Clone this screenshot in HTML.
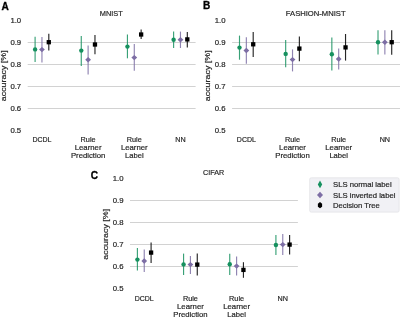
<!DOCTYPE html>
<html><head><meta charset="utf-8"><style>
html,body{margin:0;padding:0;background:#fff;width:400px;height:317px;overflow:hidden}
svg{display:block;font-family:"Liberation Sans", sans-serif;filter:blur(0.35px)}
</style></head><body>
<svg width="400" height="317" viewBox="0 0 400 317">
<line x1="27.70" y1="42.50" x2="195.60" y2="42.50" stroke="#d2d2d2" stroke-width="1.0"/>
<line x1="27.70" y1="64.50" x2="195.60" y2="64.50" stroke="#d2d2d2" stroke-width="1.0"/>
<line x1="27.70" y1="86.50" x2="195.60" y2="86.50" stroke="#d2d2d2" stroke-width="1.0"/>
<line x1="27.70" y1="108.50" x2="195.60" y2="108.50" stroke="#d2d2d2" stroke-width="1.0"/>
<text x="21.20" y="23.20" font-size="7.9" text-anchor="end" font-weight="normal" fill="#262626" stroke="#262626" stroke-width="0.2" textLength="10.8" lengthAdjust="spacingAndGlyphs" >1.0</text>
<text x="21.20" y="45.20" font-size="7.9" text-anchor="end" font-weight="normal" fill="#262626" stroke="#262626" stroke-width="0.2" textLength="10.8" lengthAdjust="spacingAndGlyphs" >0.9</text>
<text x="21.20" y="67.20" font-size="7.9" text-anchor="end" font-weight="normal" fill="#262626" stroke="#262626" stroke-width="0.2" textLength="10.8" lengthAdjust="spacingAndGlyphs" >0.8</text>
<text x="21.20" y="89.20" font-size="7.9" text-anchor="end" font-weight="normal" fill="#262626" stroke="#262626" stroke-width="0.2" textLength="10.8" lengthAdjust="spacingAndGlyphs" >0.7</text>
<text x="21.20" y="111.20" font-size="7.9" text-anchor="end" font-weight="normal" fill="#262626" stroke="#262626" stroke-width="0.2" textLength="10.8" lengthAdjust="spacingAndGlyphs" >0.6</text>
<text x="21.20" y="133.20" font-size="7.9" text-anchor="end" font-weight="normal" fill="#262626" stroke="#262626" stroke-width="0.2" textLength="10.8" lengthAdjust="spacingAndGlyphs" >0.5</text>
<text x="111.30" y="15.80" font-size="8.1" text-anchor="middle" font-weight="normal" fill="#262626" stroke="#262626" stroke-width="0.2" textLength="23.0" lengthAdjust="spacingAndGlyphs" >MNIST</text>
<text x="0" y="0" font-size="10.1" font-weight="bold" fill="#000" stroke="#000" stroke-width="0.3" transform="translate(1.6 9.5) scale(1.0 1)">A</text>
<text x="0" y="0" font-size="8.0" text-anchor="middle" fill="#262626" stroke="#262626" stroke-width="0.2" textLength="50.8" lengthAdjust="spacingAndGlyphs" transform="translate(5.60 75.80) rotate(-90)">accuracy [%]</text>
<text x="41.95" y="142.40" font-size="7.8" text-anchor="middle" font-weight="normal" fill="#262626" stroke="#262626" stroke-width="0.2" textLength="19.0" lengthAdjust="spacingAndGlyphs" >DCDL</text>
<text x="88.12" y="142.40" font-size="7.8" text-anchor="middle" font-weight="normal" fill="#262626" stroke="#262626" stroke-width="0.2" textLength="15.0" lengthAdjust="spacingAndGlyphs" >Rule</text>
<text x="88.12" y="150.35" font-size="7.8" text-anchor="middle" font-weight="normal" fill="#262626" stroke="#262626" stroke-width="0.2" textLength="26.8" lengthAdjust="spacingAndGlyphs" >Learner</text>
<text x="88.12" y="158.30" font-size="7.8" text-anchor="middle" font-weight="normal" fill="#262626" stroke="#262626" stroke-width="0.2" textLength="34.4" lengthAdjust="spacingAndGlyphs" >Prediction</text>
<text x="134.29" y="142.40" font-size="7.8" text-anchor="middle" font-weight="normal" fill="#262626" stroke="#262626" stroke-width="0.2" textLength="15.0" lengthAdjust="spacingAndGlyphs" >Rule</text>
<text x="134.29" y="150.35" font-size="7.8" text-anchor="middle" font-weight="normal" fill="#262626" stroke="#262626" stroke-width="0.2" textLength="26.8" lengthAdjust="spacingAndGlyphs" >Learner</text>
<text x="134.29" y="158.30" font-size="7.8" text-anchor="middle" font-weight="normal" fill="#262626" stroke="#262626" stroke-width="0.2" textLength="18.6" lengthAdjust="spacingAndGlyphs" >Label</text>
<text x="180.46" y="142.40" font-size="7.8" text-anchor="middle" font-weight="normal" fill="#262626" stroke="#262626" stroke-width="0.2" textLength="10.4" lengthAdjust="spacingAndGlyphs" >NN</text>
<line x1="35.10" y1="36.70" x2="35.10" y2="62.00" stroke="#16915f" stroke-width="1.15" stroke-opacity="0.85"/>
<line x1="41.95" y1="37.10" x2="41.95" y2="62.60" stroke="#7d6ea5" stroke-width="1.15" stroke-opacity="0.85"/>
<line x1="48.80" y1="33.80" x2="48.80" y2="50.60" stroke="#000000" stroke-width="1.15" stroke-opacity="0.85"/>
<circle cx="35.10" cy="49.40" r="2.2" fill="#16915f"/>
<path d="M41.95 46.90L44.85 49.60L41.95 52.30L39.05 49.60Z" fill="#7d6ea5"/>
<rect x="46.65" y="40.05" width="4.3" height="4.3" fill="#000000"/>
<line x1="81.27" y1="35.90" x2="81.27" y2="66.00" stroke="#16915f" stroke-width="1.15" stroke-opacity="0.85"/>
<line x1="88.12" y1="45.40" x2="88.12" y2="74.60" stroke="#7d6ea5" stroke-width="1.15" stroke-opacity="0.85"/>
<line x1="94.97" y1="35.00" x2="94.97" y2="54.20" stroke="#000000" stroke-width="1.15" stroke-opacity="0.85"/>
<circle cx="81.27" cy="50.60" r="2.2" fill="#16915f"/>
<path d="M88.12 57.10L91.02 59.80L88.12 62.50L85.22 59.80Z" fill="#7d6ea5"/>
<rect x="92.82" y="42.35" width="4.3" height="4.3" fill="#000000"/>
<line x1="127.44" y1="34.50" x2="127.44" y2="58.30" stroke="#16915f" stroke-width="1.15" stroke-opacity="0.85"/>
<line x1="134.29" y1="44.00" x2="134.29" y2="70.70" stroke="#7d6ea5" stroke-width="1.15" stroke-opacity="0.85"/>
<line x1="141.14" y1="29.50" x2="141.14" y2="39.00" stroke="#000000" stroke-width="1.15" stroke-opacity="0.85"/>
<circle cx="127.44" cy="46.60" r="2.2" fill="#16915f"/>
<path d="M134.29 54.90L137.19 57.60L134.29 60.30L131.39 57.60Z" fill="#7d6ea5"/>
<rect x="138.99" y="32.35" width="4.3" height="4.3" fill="#000000"/>
<line x1="173.61" y1="31.60" x2="173.61" y2="48.00" stroke="#16915f" stroke-width="1.15" stroke-opacity="0.85"/>
<line x1="180.46" y1="31.60" x2="180.46" y2="48.00" stroke="#7d6ea5" stroke-width="1.15" stroke-opacity="0.85"/>
<line x1="187.31" y1="31.90" x2="187.31" y2="47.40" stroke="#000000" stroke-width="1.15" stroke-opacity="0.85"/>
<circle cx="173.61" cy="39.70" r="2.2" fill="#16915f"/>
<path d="M180.46 37.00L183.36 39.70L180.46 42.40L177.56 39.70Z" fill="#7d6ea5"/>
<rect x="185.16" y="37.25" width="4.3" height="4.3" fill="#000000"/>
<line x1="232.10" y1="42.50" x2="400.00" y2="42.50" stroke="#d2d2d2" stroke-width="1.0"/>
<line x1="232.10" y1="64.50" x2="400.00" y2="64.50" stroke="#d2d2d2" stroke-width="1.0"/>
<line x1="232.10" y1="86.50" x2="400.00" y2="86.50" stroke="#d2d2d2" stroke-width="1.0"/>
<line x1="232.10" y1="108.50" x2="400.00" y2="108.50" stroke="#d2d2d2" stroke-width="1.0"/>
<text x="225.60" y="23.20" font-size="7.9" text-anchor="end" font-weight="normal" fill="#262626" stroke="#262626" stroke-width="0.2" textLength="10.8" lengthAdjust="spacingAndGlyphs" >1.0</text>
<text x="225.60" y="45.20" font-size="7.9" text-anchor="end" font-weight="normal" fill="#262626" stroke="#262626" stroke-width="0.2" textLength="10.8" lengthAdjust="spacingAndGlyphs" >0.9</text>
<text x="225.60" y="67.20" font-size="7.9" text-anchor="end" font-weight="normal" fill="#262626" stroke="#262626" stroke-width="0.2" textLength="10.8" lengthAdjust="spacingAndGlyphs" >0.8</text>
<text x="225.60" y="89.20" font-size="7.9" text-anchor="end" font-weight="normal" fill="#262626" stroke="#262626" stroke-width="0.2" textLength="10.8" lengthAdjust="spacingAndGlyphs" >0.7</text>
<text x="225.60" y="111.20" font-size="7.9" text-anchor="end" font-weight="normal" fill="#262626" stroke="#262626" stroke-width="0.2" textLength="10.8" lengthAdjust="spacingAndGlyphs" >0.6</text>
<text x="225.60" y="133.20" font-size="7.9" text-anchor="end" font-weight="normal" fill="#262626" stroke="#262626" stroke-width="0.2" textLength="10.8" lengthAdjust="spacingAndGlyphs" >0.5</text>
<text x="315.70" y="15.80" font-size="8.1" text-anchor="middle" font-weight="normal" fill="#262626" stroke="#262626" stroke-width="0.2" textLength="59.8" lengthAdjust="spacingAndGlyphs" >FASHION-MNIST</text>
<text x="0" y="0" font-size="10.1" font-weight="bold" fill="#000" stroke="#000" stroke-width="0.3" transform="translate(203.1 9.4) scale(1.0 1)">B</text>
<text x="0" y="0" font-size="8.0" text-anchor="middle" fill="#262626" stroke="#262626" stroke-width="0.2" textLength="50.8" lengthAdjust="spacingAndGlyphs" transform="translate(209.90 75.80) rotate(-90)">accuracy [%]</text>
<text x="246.35" y="142.40" font-size="7.8" text-anchor="middle" font-weight="normal" fill="#262626" stroke="#262626" stroke-width="0.2" textLength="19.0" lengthAdjust="spacingAndGlyphs" >DCDL</text>
<text x="292.52" y="142.40" font-size="7.8" text-anchor="middle" font-weight="normal" fill="#262626" stroke="#262626" stroke-width="0.2" textLength="15.0" lengthAdjust="spacingAndGlyphs" >Rule</text>
<text x="292.52" y="150.35" font-size="7.8" text-anchor="middle" font-weight="normal" fill="#262626" stroke="#262626" stroke-width="0.2" textLength="26.8" lengthAdjust="spacingAndGlyphs" >Learner</text>
<text x="292.52" y="158.30" font-size="7.8" text-anchor="middle" font-weight="normal" fill="#262626" stroke="#262626" stroke-width="0.2" textLength="34.4" lengthAdjust="spacingAndGlyphs" >Prediction</text>
<text x="338.69" y="142.40" font-size="7.8" text-anchor="middle" font-weight="normal" fill="#262626" stroke="#262626" stroke-width="0.2" textLength="15.0" lengthAdjust="spacingAndGlyphs" >Rule</text>
<text x="338.69" y="150.35" font-size="7.8" text-anchor="middle" font-weight="normal" fill="#262626" stroke="#262626" stroke-width="0.2" textLength="26.8" lengthAdjust="spacingAndGlyphs" >Learner</text>
<text x="338.69" y="158.30" font-size="7.8" text-anchor="middle" font-weight="normal" fill="#262626" stroke="#262626" stroke-width="0.2" textLength="18.6" lengthAdjust="spacingAndGlyphs" >Label</text>
<text x="384.86" y="142.40" font-size="7.8" text-anchor="middle" font-weight="normal" fill="#262626" stroke="#262626" stroke-width="0.2" textLength="10.4" lengthAdjust="spacingAndGlyphs" >NN</text>
<line x1="239.50" y1="35.60" x2="239.50" y2="59.70" stroke="#16915f" stroke-width="1.15" stroke-opacity="0.85"/>
<line x1="246.35" y1="37.20" x2="246.35" y2="63.70" stroke="#7d6ea5" stroke-width="1.15" stroke-opacity="0.85"/>
<line x1="253.20" y1="32.00" x2="253.20" y2="57.10" stroke="#000000" stroke-width="1.15" stroke-opacity="0.85"/>
<circle cx="239.50" cy="47.60" r="2.2" fill="#16915f"/>
<path d="M246.35 47.80L249.25 50.50L246.35 53.20L243.45 50.50Z" fill="#7d6ea5"/>
<rect x="251.05" y="42.15" width="4.3" height="4.3" fill="#000000"/>
<line x1="285.67" y1="40.00" x2="285.67" y2="67.20" stroke="#16915f" stroke-width="1.15" stroke-opacity="0.85"/>
<line x1="292.52" y1="49.40" x2="292.52" y2="71.40" stroke="#7d6ea5" stroke-width="1.15" stroke-opacity="0.85"/>
<line x1="299.37" y1="36.40" x2="299.37" y2="61.30" stroke="#000000" stroke-width="1.15" stroke-opacity="0.85"/>
<circle cx="285.67" cy="53.90" r="2.2" fill="#16915f"/>
<path d="M292.52 56.90L295.42 59.60L292.52 62.30L289.62 59.60Z" fill="#7d6ea5"/>
<rect x="297.22" y="46.45" width="4.3" height="4.3" fill="#000000"/>
<line x1="331.84" y1="37.40" x2="331.84" y2="70.60" stroke="#16915f" stroke-width="1.15" stroke-opacity="0.85"/>
<line x1="338.69" y1="48.60" x2="338.69" y2="69.40" stroke="#7d6ea5" stroke-width="1.15" stroke-opacity="0.85"/>
<line x1="345.54" y1="34.00" x2="345.54" y2="60.60" stroke="#000000" stroke-width="1.15" stroke-opacity="0.85"/>
<circle cx="331.84" cy="54.20" r="2.2" fill="#16915f"/>
<path d="M338.69 56.30L341.59 59.00L338.69 61.70L335.79 59.00Z" fill="#7d6ea5"/>
<rect x="343.39" y="45.25" width="4.3" height="4.3" fill="#000000"/>
<line x1="378.01" y1="30.30" x2="378.01" y2="54.50" stroke="#16915f" stroke-width="1.15" stroke-opacity="0.85"/>
<line x1="384.86" y1="30.30" x2="384.86" y2="54.60" stroke="#7d6ea5" stroke-width="1.15" stroke-opacity="0.85"/>
<line x1="391.71" y1="30.30" x2="391.71" y2="54.80" stroke="#000000" stroke-width="1.15" stroke-opacity="0.85"/>
<circle cx="378.01" cy="42.20" r="2.2" fill="#16915f"/>
<path d="M384.86 39.50L387.76 42.20L384.86 44.90L381.96 42.20Z" fill="#7d6ea5"/>
<rect x="389.56" y="40.05" width="4.3" height="4.3" fill="#000000"/>
<line x1="130.00" y1="200.50" x2="297.90" y2="200.50" stroke="#d2d2d2" stroke-width="1.0"/>
<line x1="130.00" y1="222.50" x2="297.90" y2="222.50" stroke="#d2d2d2" stroke-width="1.0"/>
<line x1="130.00" y1="244.50" x2="297.90" y2="244.50" stroke="#d2d2d2" stroke-width="1.0"/>
<line x1="130.00" y1="266.50" x2="297.90" y2="266.50" stroke="#d2d2d2" stroke-width="1.0"/>
<text x="123.50" y="181.20" font-size="7.9" text-anchor="end" font-weight="normal" fill="#262626" stroke="#262626" stroke-width="0.2" textLength="10.8" lengthAdjust="spacingAndGlyphs" >1.0</text>
<text x="123.50" y="203.20" font-size="7.9" text-anchor="end" font-weight="normal" fill="#262626" stroke="#262626" stroke-width="0.2" textLength="10.8" lengthAdjust="spacingAndGlyphs" >0.9</text>
<text x="123.50" y="225.20" font-size="7.9" text-anchor="end" font-weight="normal" fill="#262626" stroke="#262626" stroke-width="0.2" textLength="10.8" lengthAdjust="spacingAndGlyphs" >0.8</text>
<text x="123.50" y="247.20" font-size="7.9" text-anchor="end" font-weight="normal" fill="#262626" stroke="#262626" stroke-width="0.2" textLength="10.8" lengthAdjust="spacingAndGlyphs" >0.7</text>
<text x="123.50" y="269.20" font-size="7.9" text-anchor="end" font-weight="normal" fill="#262626" stroke="#262626" stroke-width="0.2" textLength="10.8" lengthAdjust="spacingAndGlyphs" >0.6</text>
<text x="123.50" y="291.20" font-size="7.9" text-anchor="end" font-weight="normal" fill="#262626" stroke="#262626" stroke-width="0.2" textLength="10.8" lengthAdjust="spacingAndGlyphs" >0.5</text>
<text x="213.60" y="174.90" font-size="8.1" text-anchor="middle" font-weight="normal" fill="#262626" stroke="#262626" stroke-width="0.2" textLength="21.2" lengthAdjust="spacingAndGlyphs" >CIFAR</text>
<text x="0" y="0" font-size="10.1" font-weight="bold" fill="#000" stroke="#000" stroke-width="0.3" transform="translate(90.8 179.0) scale(1.0 1)">C</text>
<text x="0" y="0" font-size="8.0" text-anchor="middle" fill="#262626" stroke="#262626" stroke-width="0.2" textLength="50.8" lengthAdjust="spacingAndGlyphs" transform="translate(107.70 234.30) rotate(-90)">accuracy [%]</text>
<text x="144.25" y="300.90" font-size="7.8" text-anchor="middle" font-weight="normal" fill="#262626" stroke="#262626" stroke-width="0.2" textLength="19.0" lengthAdjust="spacingAndGlyphs" >DCDL</text>
<text x="190.42" y="300.90" font-size="7.8" text-anchor="middle" font-weight="normal" fill="#262626" stroke="#262626" stroke-width="0.2" textLength="15.0" lengthAdjust="spacingAndGlyphs" >Rule</text>
<text x="190.42" y="308.85" font-size="7.8" text-anchor="middle" font-weight="normal" fill="#262626" stroke="#262626" stroke-width="0.2" textLength="26.8" lengthAdjust="spacingAndGlyphs" >Learner</text>
<text x="190.42" y="316.80" font-size="7.8" text-anchor="middle" font-weight="normal" fill="#262626" stroke="#262626" stroke-width="0.2" textLength="34.4" lengthAdjust="spacingAndGlyphs" >Prediction</text>
<text x="236.59" y="300.90" font-size="7.8" text-anchor="middle" font-weight="normal" fill="#262626" stroke="#262626" stroke-width="0.2" textLength="15.0" lengthAdjust="spacingAndGlyphs" >Rule</text>
<text x="236.59" y="308.85" font-size="7.8" text-anchor="middle" font-weight="normal" fill="#262626" stroke="#262626" stroke-width="0.2" textLength="26.8" lengthAdjust="spacingAndGlyphs" >Learner</text>
<text x="236.59" y="316.80" font-size="7.8" text-anchor="middle" font-weight="normal" fill="#262626" stroke="#262626" stroke-width="0.2" textLength="18.6" lengthAdjust="spacingAndGlyphs" >Label</text>
<text x="282.76" y="300.90" font-size="7.8" text-anchor="middle" font-weight="normal" fill="#262626" stroke="#262626" stroke-width="0.2" textLength="10.4" lengthAdjust="spacingAndGlyphs" >NN</text>
<line x1="137.40" y1="248.00" x2="137.40" y2="270.60" stroke="#16915f" stroke-width="1.15" stroke-opacity="0.85"/>
<line x1="144.25" y1="249.40" x2="144.25" y2="272.00" stroke="#7d6ea5" stroke-width="1.15" stroke-opacity="0.85"/>
<line x1="151.10" y1="242.40" x2="151.10" y2="263.00" stroke="#000000" stroke-width="1.15" stroke-opacity="0.85"/>
<circle cx="137.40" cy="259.60" r="2.2" fill="#16915f"/>
<path d="M144.25 258.30L147.15 261.00L144.25 263.70L141.35 261.00Z" fill="#7d6ea5"/>
<rect x="148.95" y="250.45" width="4.3" height="4.3" fill="#000000"/>
<line x1="183.57" y1="253.60" x2="183.57" y2="275.00" stroke="#16915f" stroke-width="1.15" stroke-opacity="0.85"/>
<line x1="190.42" y1="256.00" x2="190.42" y2="274.00" stroke="#7d6ea5" stroke-width="1.15" stroke-opacity="0.85"/>
<line x1="197.27" y1="253.40" x2="197.27" y2="275.40" stroke="#000000" stroke-width="1.15" stroke-opacity="0.85"/>
<circle cx="183.57" cy="264.40" r="2.2" fill="#16915f"/>
<path d="M190.42 261.90L193.32 264.60L190.42 267.30L187.52 264.60Z" fill="#7d6ea5"/>
<rect x="195.12" y="262.45" width="4.3" height="4.3" fill="#000000"/>
<line x1="229.74" y1="253.80" x2="229.74" y2="274.90" stroke="#16915f" stroke-width="1.15" stroke-opacity="0.85"/>
<line x1="236.59" y1="256.60" x2="236.59" y2="275.50" stroke="#7d6ea5" stroke-width="1.15" stroke-opacity="0.85"/>
<line x1="243.44" y1="262.20" x2="243.44" y2="277.80" stroke="#000000" stroke-width="1.15" stroke-opacity="0.85"/>
<circle cx="229.74" cy="264.20" r="2.2" fill="#16915f"/>
<path d="M236.59 263.40L239.49 266.10L236.59 268.80L233.69 266.10Z" fill="#7d6ea5"/>
<rect x="241.29" y="267.75" width="4.3" height="4.3" fill="#000000"/>
<line x1="275.91" y1="235.00" x2="275.91" y2="255.00" stroke="#16915f" stroke-width="1.15" stroke-opacity="0.85"/>
<line x1="282.76" y1="234.00" x2="282.76" y2="255.00" stroke="#7d6ea5" stroke-width="1.15" stroke-opacity="0.85"/>
<line x1="289.61" y1="235.00" x2="289.61" y2="254.60" stroke="#000000" stroke-width="1.15" stroke-opacity="0.85"/>
<circle cx="275.91" cy="245.00" r="2.2" fill="#16915f"/>
<path d="M282.76 241.90L285.66 244.60L282.76 247.30L279.86 244.60Z" fill="#7d6ea5"/>
<rect x="287.46" y="242.45" width="4.3" height="4.3" fill="#000000"/>
<rect x="309.7" y="177.8" width="89.4" height="34.3" rx="1.5" fill="#f1f1f5" stroke="#e2e2e6" stroke-width="0.8"/>
<path d="M320.00 180.50L322.20 184.40L320.00 188.30L317.80 184.40Z" fill="#16915f"/>
<path d="M320.00 191.70L323.00 195.00L320.00 198.30L317.00 195.00Z" fill="#7d6ea5"/>
<polygon points="320.00,202.10 322.12,203.65 322.12,206.75 320.00,208.30 317.88,206.75 317.88,203.65" fill="#000000"/>
<text x="333.00" y="187.20" font-size="7.8" text-anchor="start" font-weight="normal" fill="#262626" stroke="#262626" stroke-width="0.2" textLength="58.6" lengthAdjust="spacingAndGlyphs" >SLS normal label</text>
<text x="333.00" y="197.90" font-size="7.8" text-anchor="start" font-weight="normal" fill="#262626" stroke="#262626" stroke-width="0.2" textLength="62.4" lengthAdjust="spacingAndGlyphs" >SLS inverted label</text>
<text x="333.00" y="208.00" font-size="7.8" text-anchor="start" font-weight="normal" fill="#262626" stroke="#262626" stroke-width="0.2" textLength="46.7" lengthAdjust="spacingAndGlyphs" >Decision Tree</text>
</svg>
</body></html>
